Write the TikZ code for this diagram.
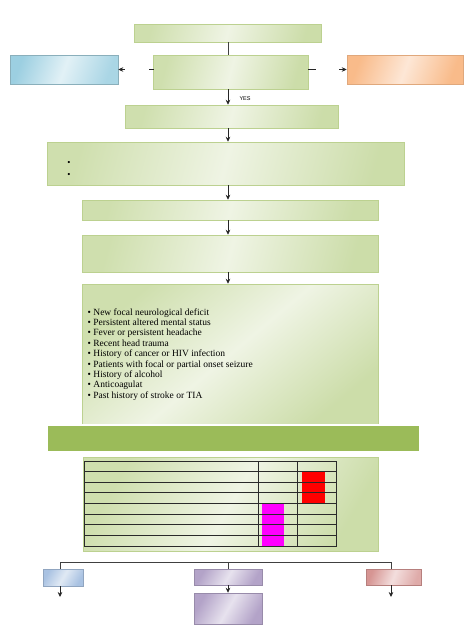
\documentclass[tikz,border=0pt]{standalone}
\usepackage{fontspec}
\setmainfont{Liberation Serif}
\newfontfamily\yesfont{Liberation Sans}
\usetikzlibrary{arrows.meta,shadows}
\definecolor{gD}{HTML}{BCD190}
\definecolor{gM}{HTML}{CFDFAE}
\definecolor{gL}{HTML}{EFF4E4}
\definecolor{band}{HTML}{9BBB59}
\definecolor{bD}{HTML}{9CCFE1}
\definecolor{bL}{HTML}{E2F1F6}
\definecolor{oD}{HTML}{F9BB8A}
\definecolor{oL}{HTML}{FDE7D6}
\definecolor{pD}{HTML}{B3A3C8}
\definecolor{pL}{HTML}{E7E2EE}
\definecolor{rD}{HTML}{D69593}
\definecolor{rL}{HTML}{F3DEDD}
\definecolor{sbD}{HTML}{A9C2E2}
\definecolor{sbL}{HTML}{E0E9F4}
\definecolor{tline}{HTML}{2A2A2A}
\definecolor{mag}{HTML}{FF00FF}
\begin{document}
\begin{tikzpicture}[x=1pt,y=-1pt,
  box/.style={rectangle, inner sep=0pt, line width=0.5pt,
    drop shadow={shadow xshift=0.8pt, shadow yshift=-1.2pt, opacity=0.3, fill=black!60}},
  gbox/.style={box, draw=gD, left color=gM, right color=gM!85!gD, middle color=gL, shading angle=75},
  bbox/.style={box, draw=bD!80!black!90, left color=bD, right color=bD!80!bL, middle color=bL, shading angle=70},
  obox/.style={box, draw=oD!90!black, left color=oD, right color=oD, middle color=oL, shading angle=70},
  pbox/.style={box, draw=pD!85!black, left color=pD, right color=pD, middle color=pL, shading angle=60},
  rbox/.style={box, draw=rD!85!black, left color=rD, right color=rD!70!rL, middle color=rL, shading angle=70},
  sbbox/.style={box, draw=sbD!85!black, left color=sbD, right color=sbD, middle color=sbL, shading angle=60},
  arr/.style={draw=black!85, line width=0.7pt, -{Stealth[length=5pt,width=4.6pt]}},
  conn/.style={draw=black!75, line width=0.7pt},
  gap/.style={fill=white, inner sep=0pt, minimum height=4pt},
  tl/.style={draw=tline, line width=0.8pt}
]
\useasboundingbox (0,0) rectangle (474,632);
\coordinate (sp) at (228,0);

% top part
\node[gbox, minimum width=187pt, minimum height=18pt] (top) at (227.5,33) {};
\node[gbox, minimum width=155pt, minimum height=34pt] (mid) at (230.5,72) {};
\node[bbox, minimum width=108pt, minimum height=29pt] (blue) at (64,69.5) {};
\node[obox, minimum width=116pt, minimum height=29pt] (orange) at (405,69.5) {};
\node[gbox, minimum width=213pt, minimum height=23pt] (b3) at (231.5,116.5) {};
\node[gbox, minimum width=357pt, minimum height=43pt] (b4) at (225.5,163.5) {};
\node[gbox, minimum width=296pt, minimum height=20pt] (b5) at (230,210) {};
\node[gbox, minimum width=296pt, minimum height=37pt] (b6) at (230,253.5) {};
\node[gbox, minimum width=296pt, minimum height=140pt, shading angle=40] (b7) at (230,354) {};
\node[box, fill=band, draw=white, line width=1.4pt, minimum width=373pt, minimum height=27pt] (band) at (233.5,438.5) {};
\node[gbox, minimum width=295pt, minimum height=94pt, shading angle=60] (b8) at (230.5,504) {};

% bottom boxes
\node[sbbox, minimum width=40pt, minimum height=17pt] (sblue) at (63,577.5) {};
\node[pbox, minimum width=68pt, minimum height=16pt] (p1) at (228,577) {};
\node[pbox, minimum width=68pt, minimum height=31pt] (p2) at (228,608.5) {};
\node[rbox, minimum width=55pt, minimum height=16pt] (pink) at (393.5,577) {};

% connectors top
\draw[conn] (top.south -| sp) -- (mid.north -| sp);
\draw[arr] ([xshift=1pt]mid.west |- blue.east) -- node[gap, minimum width=24pt, pos=0.47]{} (blue.east);
\draw[arr] (mid.east |- orange.west) -- node[gap, minimum width=23pt]{} (orange.west);
\draw[arr] (mid.south -| sp) -- (b3.north -| sp);
\node[font=\yesfont\fontsize{5.5}{6}\selectfont, inner sep=0pt] (yes) at (245,98.8) {YES};
\draw[arr] (b3.south -| sp) -- (b4.north -| sp);
\draw[arr] (b4.south -| sp) -- (b5.north -| sp);
\draw[arr] (b5.south -| sp) -- (b6.north -| sp);
\draw[arr] (b6.south -| sp) -- (b7.north -| sp);

% bullets in b4
\node[font=\fontsize{9}{9}\selectfont, inner sep=0pt] (bu1) at (69,163) {•};
\node[font=\fontsize{9}{9}\selectfont, inner sep=0pt] (bu2) at (69,175) {•};

% list
\node[anchor=north west, inner sep=0pt, align=left, font=\fontsize{9.5}{10.4}\selectfont] (list) at (87.5,308.3)
{• New focal neurological deficit\\
• Persistent altered mental status\\
• Fever or persistent headache\\
• Recent head trauma\\
• History of cancer or HIV infection\\
• Patients with focal or partial onset seizure\\
• History of alcohol\\
• Anticoagulat\\
• Past history of stroke or TIA};

% table
\fill[red] (301.7,471.6) rectangle (325,503.5);
\fill[mag] (262.3,503.5) rectangle (284.3,546);
\foreach \y in {461,471.625,482.25,492.875,503.5,514.125,524.75,535.375,546}
  \draw[tl] (84,\y) -- (336.5,\y);
\foreach \x in {84,258,297,336.5}
  \draw[tl] (\x,461) -- (\x,546);

% bottom connectors
\coordinate (hl) at (60,562);
\coordinate (hm) at (228,562);
\coordinate (hr) at (391,562);
\draw[conn] (hl |- sblue.north) -- (hl) -- (hr) -- (hr |- pink.north);
\draw[conn] (hm) -- (p1.north);
\coordinate (e1) at (60,597);
\coordinate (e3) at (391,597);
\draw[arr] (sblue.south -| hl) -- (e1);
\draw[arr] (p1.south) -- (p2.north);
\draw[arr] (pink.south -| hr) -- (e3);
\end{tikzpicture}
\end{document}
